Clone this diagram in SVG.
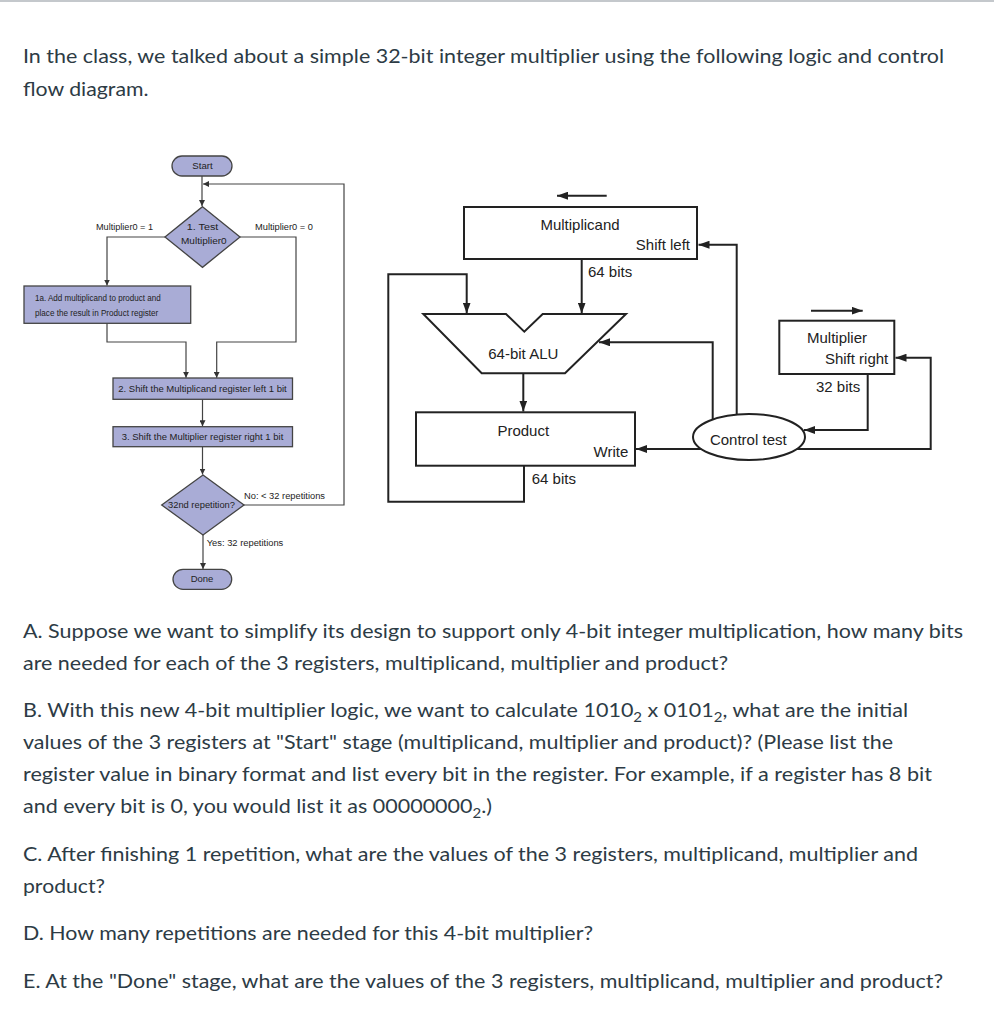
<svg xmlns="http://www.w3.org/2000/svg" width="994" height="1024" viewBox="0 0 994 1024">
<style>
.q{font-family:Lato,"Noto Sans",sans-serif;font-size:20px;fill:#2d3b45}
.f{font-family:"Liberation Sans",Arial,sans-serif;font-size:8.5px;fill:#222}
.fs{fill:#a9acd6;stroke:#444;stroke-width:1.3}
.fl{fill:none;stroke:#444;stroke-width:1.2}
.d{font-family:"Liberation Sans",Arial,sans-serif;font-size:15px;fill:#222}
.ds{fill:#fff;stroke:#222;stroke-width:2}
.dl{fill:none;stroke:#222;stroke-width:2}
.sub{font-size:14px}
</style>
<defs>
<marker id="fa" markerUnits="userSpaceOnUse" markerWidth="6" markerHeight="6" refX="6" refY="3" orient="auto"><path d="M0,0 L6,3 L0,6 z" fill="#333"/></marker>
<marker id="da" markerUnits="userSpaceOnUse" markerWidth="11" markerHeight="8" refX="11" refY="4" orient="auto"><path d="M0,0 L11,4 L0,8 z" fill="#222"/></marker>
</defs>
<rect x="0" y="0" width="994" height="2" fill="#c4c8cc"/>

<text class="q" x="23" y="62.5" textLength="921" lengthAdjust="spacingAndGlyphs">In the class, we talked about a simple 32-bit integer multiplier using the following logic and control</text>
<text class="q" x="23" y="95.5" textLength="125.5" lengthAdjust="spacingAndGlyphs">flow diagram.</text>

<g id="flowchart-connectors">
<path class="fl" d="M202,176 V206" marker-end="url(#fa)"/>
<path class="fl" d="M244,505 H344 V184 H203" marker-end="url(#fa)"/>
<path class="fl" d="M165,237 H107 V285.5" marker-end="url(#fa)"/>
<path class="fl" d="M240,237 H296 V342 H216.7 V377.8" marker-end="url(#fa)"/>
<path class="fl" d="M107,323.3 V342 H186 V377.8" marker-end="url(#fa)"/>
<path class="fl" d="M202.5,399.3 V426.2" marker-end="url(#fa)"/>
<path class="fl" d="M202.5,446.7 V474.5" marker-end="url(#fa)"/>
<path class="fl" d="M203,535 V569" marker-end="url(#fa)"/>
</g>
<g id="f-start"><rect class="fs" x="172" y="156" width="60" height="20" rx="10"/><text class="f" x="192.3" y="169" textLength="20.4" lengthAdjust="spacingAndGlyphs">Start</text></g>
<g id="f-test"><polygon class="fs" points="202.5,206.7 240,237 202.5,267.3 165,237"/><text class="f" x="186.7" y="230" textLength="31.6" lengthAdjust="spacingAndGlyphs">1.  Test</text><text class="f" x="181" y="243.7" textLength="45.7" lengthAdjust="spacingAndGlyphs">Multiplier0</text></g>
<g id="f-labels"><text class="f" x="96" y="230" textLength="57" lengthAdjust="spacingAndGlyphs">Multiplier0 = 1</text><text class="f" x="255" y="230" textLength="58" lengthAdjust="spacingAndGlyphs">Multiplier0 = 0</text></g>
<g id="f-add"><rect class="fs" x="24" y="286" width="166.7" height="37.3"/><text class="f" x="35" y="301.3" textLength="125.7" lengthAdjust="spacingAndGlyphs">1a.  Add multiplicand to product and</text><text class="f" x="35" y="316.3" textLength="123.3" lengthAdjust="spacingAndGlyphs">place the result in Product register</text></g>
<g id="f-shl"><rect class="fs" x="113" y="378" width="179.5" height="21.3"/><text class="f" x="118.3" y="392" textLength="168.4" lengthAdjust="spacingAndGlyphs">2.  Shift the Multiplicand register left 1 bit</text></g>
<g id="f-shr"><rect class="fs" x="113" y="426.7" width="179.5" height="20"/><text class="f" x="121.7" y="439.7" textLength="161.6" lengthAdjust="spacingAndGlyphs">3.  Shift the Multiplier register right 1 bit</text></g>
<g id="f-rep"><polygon class="fs" points="203,475 244,505 203,535 161.7,505"/><text class="f" x="168" y="508" textLength="67" lengthAdjust="spacingAndGlyphs">32nd repetition?</text></g>
<g id="f-rep-labels"><text class="f" x="244" y="498.5" textLength="81" lengthAdjust="spacingAndGlyphs">No: &lt; 32 repetitions</text><text class="f" x="206.7" y="545.5" textLength="76.6" lengthAdjust="spacingAndGlyphs">Yes: 32 repetitions</text></g>
<g id="f-done"><rect class="fs" x="173" y="569.3" width="58.7" height="20" rx="10"/><text class="f" x="190.7" y="582.3" textLength="22.7" lengthAdjust="spacingAndGlyphs">Done</text></g>

<g id="hw-connectors">
<path class="dl" d="M606.7,195.7 H557" marker-end="url(#da)"/>
<path class="dl" d="M811,310.7 H862.7" marker-end="url(#da)"/>
<path class="dl" d="M581.7,259 V313.5" marker-end="url(#da)"/>
<path class="dl" d="M524,466 V501.7 H388.3 V274.3 H466.7 V313.5" marker-end="url(#da)"/>
<path class="dl" d="M523.3,373.3 V411.5" marker-end="url(#da)"/>
<path class="dl" d="M712.7,437 V342.3 H599" marker-end="url(#da)"/>
<path class="dl" d="M736.7,437 V244.7 H698.5" marker-end="url(#da)"/>
<path class="dl" d="M749,449 H636" marker-end="url(#da)"/>
<path class="dl" d="M749,449 H930.7 V357.7 H895.5" marker-end="url(#da)"/>
<path class="dl" d="M867.7,374 V430 H804" marker-end="url(#da)"/>
</g>
<g id="hw-multiplicand"><rect class="ds" x="464" y="207" width="233" height="52"/><text class="d" x="580" y="229.7" text-anchor="middle">Multiplicand</text><text class="d" x="690" y="249.5" text-anchor="end">Shift left</text><text class="d" x="588" y="277">64 bits</text></g>
<g id="hw-alu"><polygon class="ds" points="423.3,314 506,314 524.3,331.7 542.7,314 626,314 565,373.3 481.7,373.3"/><text class="d" x="523.3" y="358.7" text-anchor="middle">64-bit ALU</text></g>
<g id="hw-product"><rect class="ds" x="416" y="412.3" width="219" height="53.4"/><text class="d" x="523.3" y="436" text-anchor="middle">Product</text><text class="d" x="628.3" y="457" text-anchor="end">Write</text><text class="d" x="531.7" y="483.7">64 bits</text></g>
<g id="hw-multiplier"><rect class="ds" x="779.3" y="320.7" width="115" height="53.3"/><text class="d" x="837" y="342.7" text-anchor="middle">Multiplier</text><text class="d" x="888.3" y="363.7" text-anchor="end">Shift right</text><text class="d" x="816" y="392">32 bits</text></g>
<g id="hw-control"><ellipse class="ds" cx="749" cy="437" rx="56" ry="23"/><text class="d" x="748.3" y="444.7" text-anchor="middle">Control test</text></g>

<text class="q" x="23" y="637.5" textLength="940" lengthAdjust="spacingAndGlyphs">A. Suppose we want to simplify its design to support only 4-bit integer multiplication, how many bits</text>
<text class="q" x="23" y="669.5" textLength="705" lengthAdjust="spacingAndGlyphs">are needed for each of the 3 registers, multiplicand, multiplier and product?</text>
<text class="q" x="23" y="717" textLength="885" lengthAdjust="spacingAndGlyphs">B. With this new 4-bit multiplier logic, we want to calculate 1010<tspan class="sub" dy="5">2</tspan><tspan dy="-5"> x 0101</tspan><tspan class="sub" dy="5">2</tspan><tspan dy="-5">, what are the initial</tspan></text>
<text class="q" x="23" y="749" textLength="870" lengthAdjust="spacingAndGlyphs">values of the 3 registers at "Start" stage (multiplicand, multiplier and product)? (Please list the</text>
<text class="q" x="23" y="781" textLength="909" lengthAdjust="spacingAndGlyphs">register value in binary format and list every bit in the register.  For example, if a register has 8 bit</text>
<text class="q" x="23" y="812.5" textLength="469" lengthAdjust="spacingAndGlyphs">and every bit is 0, you would list it as 00000000<tspan class="sub" dy="5">2</tspan><tspan dy="-5">.)</tspan></text>
<text class="q" x="23" y="860.5" textLength="895" lengthAdjust="spacingAndGlyphs">C. After finishing 1 repetition, what are the values of the 3 registers, multiplicand, multiplier and</text>
<text class="q" x="23" y="892.5" textLength="82" lengthAdjust="spacingAndGlyphs">product?</text>
<text class="q" x="23" y="940" textLength="570" lengthAdjust="spacingAndGlyphs">D. How many repetitions are needed for this 4-bit multiplier?</text>
<text class="q" x="23" y="988" textLength="920" lengthAdjust="spacingAndGlyphs">E. At the "Done" stage, what are the values of the 3 registers, multiplicand, multiplier and product?</text>
</svg>
